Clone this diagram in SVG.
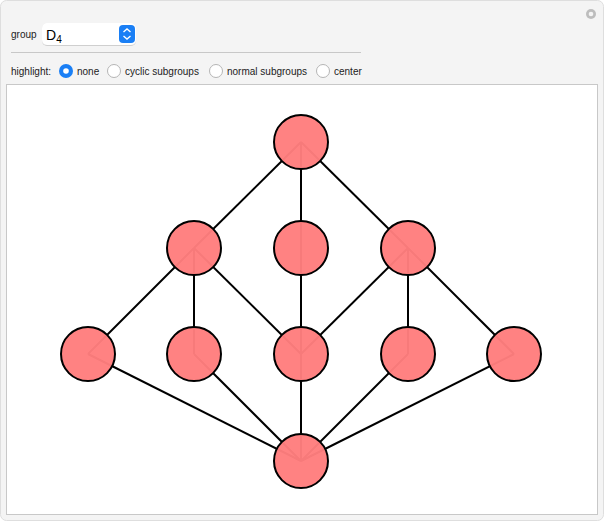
<svg xmlns="http://www.w3.org/2000/svg" width="604" height="522" viewBox="0 0 604 522">
<style>
.lbl{font-family:"Liberation Sans",Arial,sans-serif;font-size:10px;fill:#222}
.edge{stroke:#000;stroke-width:2;fill:none}
.node{fill:#ff7e7e;fill-opacity:0.97;stroke:#000;stroke-width:2}
.radio{fill:#fff;stroke:#b5b5b5;stroke-width:1}
</style>
<defs>
<filter id="sh" x="-10%" y="-20%" width="120%" height="150%">
<feDropShadow dx="0" dy="0.5" stdDeviation="0.7" flood-color="#000" flood-opacity="0.3"/>
</filter>
</defs>
<rect x="0.5" y="0.5" width="603" height="520" rx="6" fill="#f4f4f4" stroke="#dedede"/>
<g id="closebtn"><circle cx="591" cy="14" r="5" fill="#bdbdbd"/><circle cx="591" cy="14" r="2.3" fill="#f4f4f4"/></g>
<g id="controls">
<text class="lbl" x="11" y="38">group</text>
<rect x="42" y="23" width="94" height="22" rx="5" fill="#fff" filter="url(#sh)"/>
<text x="46" y="40" font-family="Liberation Sans,Arial,sans-serif" font-size="14" fill="#000">D<tspan font-size="10" dy="3">4</tspan></text>
<rect x="119" y="25" width="16" height="18" rx="4" fill="#1a7ff5"/>
<path d="M123.5 32 L127 29 L130.5 32 M123.5 36 L127 39 L130.5 36" stroke="#fff" stroke-width="1.4" fill="none"/>
<line x1="11" y1="52.5" x2="361" y2="52.5" stroke="#c8c8c8"/>
<text class="lbl" x="11" y="75">highlight:</text>
<circle cx="66" cy="71" r="7" fill="#1a7ff5"/><circle cx="66" cy="71" r="2.8" fill="#fff"/>
<text class="lbl" x="77" y="75">none</text>
<circle class="radio" cx="114" cy="71" r="6.5"/>
<text class="lbl" x="125" y="75">cyclic subgroups</text>
<circle class="radio" cx="216" cy="71" r="6.5"/>
<text class="lbl" x="227" y="75">normal subgroups</text>
<circle class="radio" cx="323" cy="71" r="6.5"/>
<text class="lbl" x="334" y="75">center</text>
</g>
<rect x="6.5" y="84.5" width="591" height="430" fill="#fff" stroke="#c8c8c8"/>
<g id="connectors" class="edge">
<line x1="301" y1="142" x2="194" y2="248"/>
<line x1="301" y1="142" x2="301" y2="248"/>
<line x1="301" y1="142" x2="408" y2="248"/>
<line x1="194" y1="248" x2="88" y2="354"/>
<line x1="194" y1="248" x2="194" y2="354"/>
<line x1="194" y1="248" x2="301" y2="354"/>
<line x1="301" y1="248" x2="301" y2="354"/>
<line x1="408" y1="248" x2="301" y2="354"/>
<line x1="408" y1="248" x2="408" y2="354"/>
<line x1="408" y1="248" x2="514" y2="354"/>
<line x1="88" y1="354" x2="301" y2="461"/>
<line x1="194" y1="354" x2="301" y2="461"/>
<line x1="301" y1="354" x2="301" y2="461"/>
<line x1="408" y1="354" x2="301" y2="461"/>
<line x1="514" y1="354" x2="301" y2="461"/>
</g>
<g id="n_top"><circle class="node" cx="301" cy="142" r="27"/></g>
<g id="n_m1"><circle class="node" cx="194" cy="248" r="27"/></g>
<g id="n_m2"><circle class="node" cx="301" cy="248" r="27"/></g>
<g id="n_m3"><circle class="node" cx="408" cy="248" r="27"/></g>
<g id="n_l1"><circle class="node" cx="88" cy="354" r="27"/></g>
<g id="n_l2"><circle class="node" cx="194" cy="354" r="27"/></g>
<g id="n_l3"><circle class="node" cx="301" cy="354" r="27"/></g>
<g id="n_l4"><circle class="node" cx="408" cy="354" r="27"/></g>
<g id="n_l5"><circle class="node" cx="514" cy="354" r="27"/></g>
<g id="n_bot"><circle class="node" cx="301" cy="461" r="27"/></g>
</svg>
